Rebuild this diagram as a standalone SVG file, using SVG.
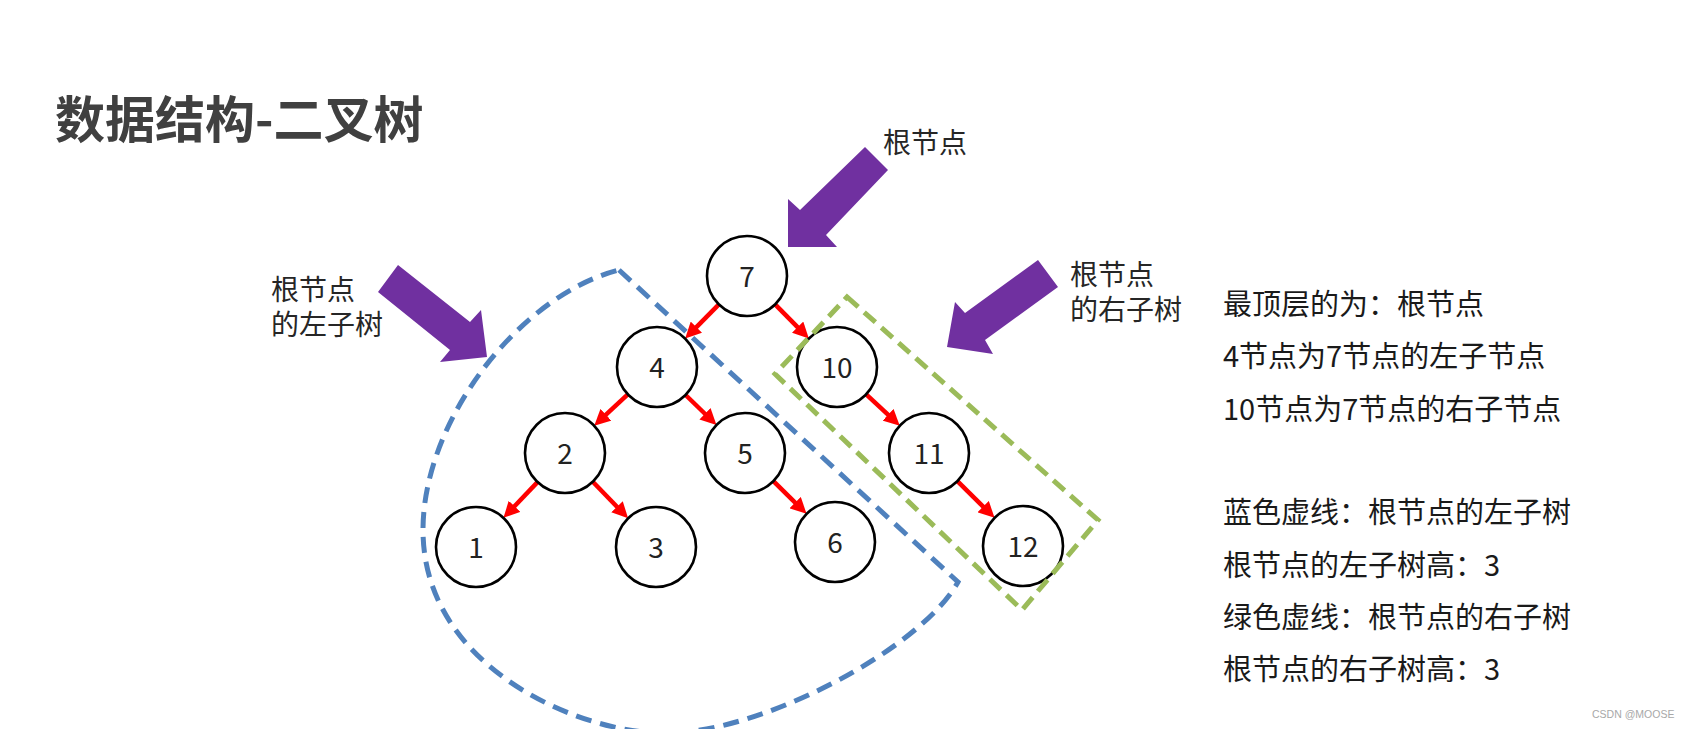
<svg xmlns="http://www.w3.org/2000/svg" width="1682" height="729" viewBox="0 0 1682 729">
<style>
.cjk{font-family:"Noto Sans CJK SC","Microsoft YaHei",sans-serif;}
.title{font-size:50px;font-weight:700;fill:#404040;}
.lbl{font-size:28px;fill:#262626;}
.info{font-size:29px;fill:#1a1a1a;}
.node circle{fill:#ffffff;stroke:#000000;stroke-width:2.6;}
.node text{font-family:"Noto Sans CJK SC","Microsoft YaHei",sans-serif;font-size:28px;fill:#222222;text-anchor:middle;}
.edge{stroke:#ff0000;stroke-width:4.5;fill:none;marker-end:url(#ah);}
.purple{fill:#7030a0;}
.blue{fill:none;stroke:#4f81bd;stroke-width:5;stroke-dasharray:16 9;}
.green{fill:none;stroke:#9bbb59;stroke-width:5;stroke-dasharray:15 8;}
</style>
<defs>
<marker id="ah" viewBox="0 0 16 16" markerWidth="16" markerHeight="16" refX="1" refY="8" orient="auto" markerUnits="userSpaceOnUse">
<path d="M0,0 L16,8 L0,16 z" fill="#ff0000"/>
</marker>
</defs>
<rect width="1682" height="729" fill="#ffffff"/>
<text class="cjk title" x="55" y="138">数据结构-二叉树</text>

<!-- purple block arrows -->
<polygon class="purple" points="865,147 888,170 826,235 837,247 788,247 788,199 800,210"/>
<polygon class="purple" points="398,265 378,292 450,350 440,362 487,357 481,310 470,322"/>
<polygon class="purple" points="1038,260 1058,287 985,340 993,354 947,347 955,302 965,313"/>

<text class="cjk lbl" x="883" y="153">根节点</text>
<text class="cjk lbl" x="271" y="300">根节点<tspan x="271" dy="35">的左子树</tspan></text>
<text class="cjk lbl" x="1070" y="285">根节点<tspan x="1070" dy="35">的右子树</tspan></text>

<g id="connectors">
<line class="edge" x1="718.9" y1="304.4" x2="695.7" y2="327.9"/>
<line class="edge" x1="775.1" y1="304.4" x2="798.3" y2="327.9"/>
<line class="edge" x1="627.8" y1="394.3" x2="605.2" y2="415.4"/>
<line class="edge" x1="685.6" y1="395.0" x2="705.7" y2="414.5"/>
<line class="edge" x1="537.5" y1="482.1" x2="513.8" y2="507.0"/>
<line class="edge" x1="592.8" y1="481.7" x2="617.7" y2="507.5"/>
<line class="edge" x1="773.4" y1="481.1" x2="795.9" y2="503.3"/>
<line class="edge" x1="866.2" y1="394.3" x2="888.8" y2="415.4"/>
<line class="edge" x1="957.4" y1="481.1" x2="983.9" y2="507.3"/>
</g>

<g id="node-7" class="node"><circle cx="747" cy="276" r="40"/><text x="747" y="287">7</text></g>
<g id="node-4" class="node"><circle cx="657" cy="367" r="40"/><text x="657" y="378">4</text></g>
<g id="node-10" class="node"><circle cx="837" cy="367" r="40"/><text x="837" y="378">10</text></g>
<g id="node-2" class="node"><circle cx="565" cy="453" r="40"/><text x="565" y="464">2</text></g>
<g id="node-5" class="node"><circle cx="745" cy="453" r="40"/><text x="745" y="464">5</text></g>
<g id="node-11" class="node"><circle cx="929" cy="453" r="40"/><text x="929" y="464">11</text></g>
<g id="node-1" class="node"><circle cx="476" cy="547" r="40"/><text x="476" y="558">1</text></g>
<g id="node-3" class="node"><circle cx="656" cy="547" r="40"/><text x="656" y="558">3</text></g>
<g id="node-6" class="node"><circle cx="835" cy="542" r="40"/><text x="835" y="553">6</text></g>
<g id="node-12" class="node"><circle cx="1023" cy="546" r="40"/><text x="1023" y="557">12</text></g>

<path class="blue" d="M619,270 L958,582 C920,650 760,733 667,733 C585,735 423,670 423,530 C423,420 520,295 619,270 Z"/>
<polygon class="green" points="847,297 1098,520 1022,610 775,374"/>

<text class="cjk info" x="1223" y="315">最顶层的为：根节点</text>
<text class="cjk info" x="1223" y="367">4节点为7节点的左子节点</text>
<text class="cjk info" x="1223" y="420">10节点为7节点的右子节点</text>
<text class="cjk info" x="1223" y="523">蓝色虚线：根节点的左子树</text>
<text class="cjk info" x="1223" y="576">根节点的左子树高：3</text>
<text class="cjk info" x="1223" y="628">绿色虚线：根节点的右子树</text>
<text class="cjk info" x="1223" y="680">根节点的右子树高：3</text>

<text x="1592" y="718" font-family="Liberation Sans, Arial, sans-serif" font-size="10.5" fill="#a8a8a8">CSDN @MOOSE</text>
</svg>
